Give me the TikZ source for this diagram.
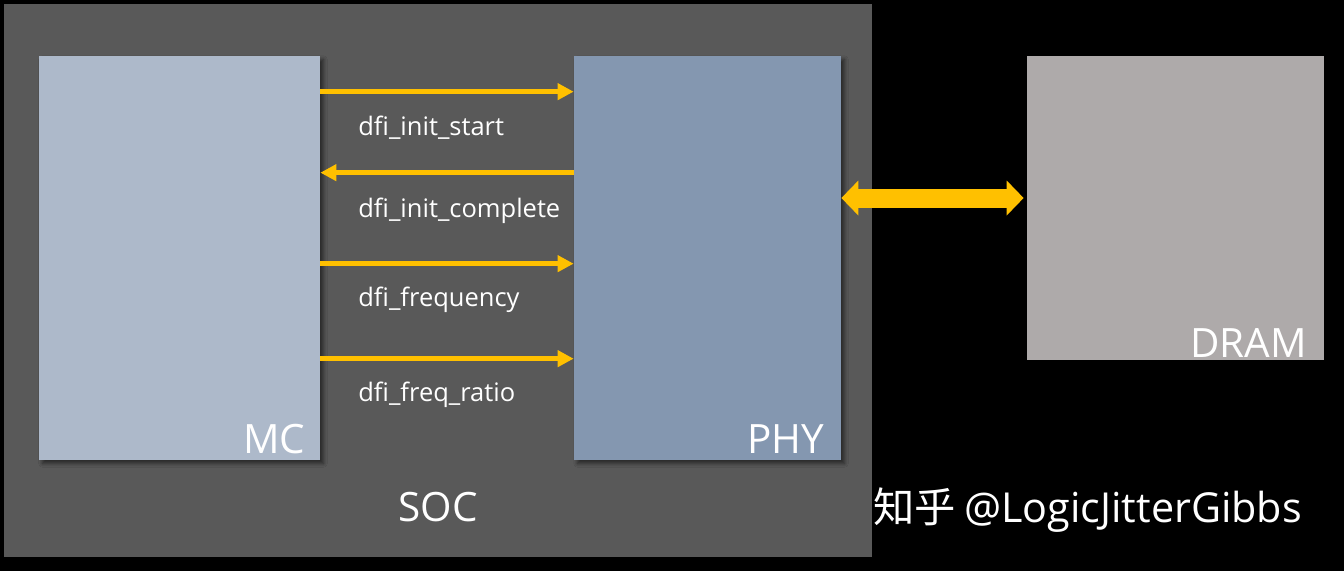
\documentclass[tikz,border=0pt]{standalone}
\usepackage{fontspec}
\setmainfont{Open Sans}
\newfontfamily\cjk{Noto Sans CJK SC}
\usetikzlibrary{arrows.meta,shadows.blur}

\definecolor{socgray}{HTML}{595959}
\definecolor{mcblue}{HTML}{ADB9CA}
\definecolor{phyblue}{HTML}{8497B0}
\definecolor{dramgray}{HTML}{AEAAAA}
\definecolor{sigyellow}{HTML}{FFC000}

\begin{document}
\begin{tikzpicture}
        \fill[black] (0,0) rectangle (26.88,-11.42);
        \useasboundingbox (0,0) rectangle (26.88,-11.42);

        \tikzstyle{block}=[draw=none,inner sep=0pt,
            blur shadow={shadow xshift=0.07cm,shadow yshift=-0.07cm,shadow blur steps=6,shadow opacity=55}]
        \tikzstyle{boxlabel}=[text=white,font=\fontsize{23}{28}\selectfont,inner sep=0pt]
        \tikzstyle{sig}=[draw=sigyellow,line width=0.1cm,-{Triangle[width=0.32cm,length=0.32cm]}]
        \tikzstyle{siglabel}=[text=white,font=\fontsize{14.5}{18}\selectfont,inner sep=0pt,anchor=base west]

        \node [fill=socgray,minimum width=17.36cm,minimum height=11.06cm,inner sep=0pt] (soc) at (8.76,-5.61) {};
        \node [block,fill=mcblue,minimum width=5.62cm,minimum height=8.08cm] (mc) at (3.59,-5.16) {};
        \node [block,fill=phyblue,minimum width=5.34cm,minimum height=8.08cm] (phy) at (14.15,-5.16) {};
        \node [fill=dramgray,minimum width=5.94cm,minimum height=6.08cm,inner sep=0pt] (dram) at (23.51,-4.16) {};

        \node [boxlabel,anchor=base east] (mc_label) at ([shift={(-0.3,0.14)}]mc.south east) {MC};
        \node [boxlabel,anchor=base east] (phy_label) at ([shift={(-0.34,0.14)}]phy.south east) {PHY};
        \node [boxlabel,anchor=base east] (dram_label) at ([shift={(-0.34,0.06)}]dram.south east) {DRAM};
        \node [boxlabel,anchor=base] (soc_label) at (8.76,-10.42) {SOC};

        \coordinate (s1) at ([yshift=-0.72cm]mc.north east);
        \coordinate (s2) at ([yshift=-2.34cm]mc.north east);
        \coordinate (s3) at ([yshift=-4.16cm]mc.north east);
        \coordinate (s4) at ([yshift=-6.06cm]mc.north east);
        \draw[sig] (s1) -- (s1 -| phy.west);  % mc->phy
        \draw[sig] (s2 -| phy.west) -- (s2);  % phy->mc
        \draw[sig] (s3) -- (s3 -| phy.west);  % mc->phy
        \draw[sig] (s4) -- (s4 -| phy.west);  % mc->phy

        \node [siglabel] (l1) at (7.16,-2.70) {dfi\_init\_start};
        \node [siglabel] (l2) at (7.16,-4.34) {dfi\_init\_complete};
        \node [siglabel] (l3) at (7.16,-6.12) {dfi\_frequency};
        \node [siglabel] (l4) at (7.16,-8.02) {dfi\_freq\_ratio};

        \coordinate (bus) at (0,-3.96);
        \draw[sigyellow,line width=0.38cm,{Triangle[width=0.68cm,length=0.34cm]}-{Triangle[width=0.68cm,length=0.34cm]}]
            (bus -| phy.east) -- ([xshift=-0.06cm]bus -| dram.west);  % phy<->dram

        \node [text=white,anchor=base west,inner sep=0pt,font=\fontsize{23.5}{28}\selectfont] (mark) at (17.46,-10.44) {{\cjk 知乎}\hspace{0.2em}@LogicJitterGibbs};
\end{tikzpicture}
\end{document}
